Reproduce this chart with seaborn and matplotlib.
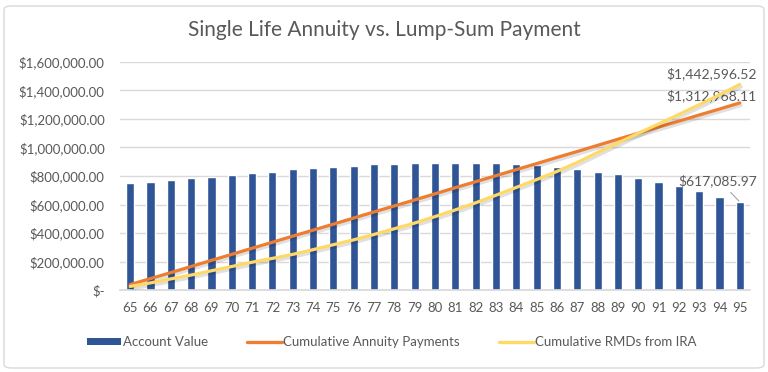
import numpy as np
import pandas as pd
import matplotlib.pyplot as plt
import matplotlib.patheffects as pe
from matplotlib.patches import FancyBboxPatch, Patch
from matplotlib.lines import Line2D
from matplotlib.ticker import FuncFormatter
import seaborn as sns

# ── data ──
ages = list(range(65, 96))
account_value = [753, 760, 769, 786, 795, 805, 821, 831, 847, 854, 864,
                 873, 882, 882, 889, 889, 889, 889, 889, 882, 875, 866,
                 847, 831, 812, 788, 760, 727, 692, 656, 617.08597]
annuity_cum = [38, 80, 122, 165, 208, 250, 293, 335, 378, 420, 462,
               505, 548, 590, 632, 675, 718, 760, 802, 845, 887, 930,
               972, 1015, 1058, 1100, 1143, 1185, 1228, 1270, 1312.96811]
rmd_cum = [25, 50, 78, 105, 135, 165, 195, 222, 250, 283, 318,
           352, 390, 430, 470, 515, 562, 612, 665, 720, 775, 832,
           895, 965, 1032, 1100, 1165, 1232, 1300, 1370, 1442.59652]

series_names = ['Account Value', 'Cumulative Annuity Payments', 'Cumulative RMDs from IRA']
colors = ['#2F5597', '#ED7D31', '#FFD966']
text_gray = '#595959'

df = pd.DataFrame({'age': ages,
                   'account': np.array(account_value) * 1000,
                   'annuity': np.array(annuity_cum) * 1000,
                   'rmd': np.array(rmd_cum) * 1000})
df['pos'] = np.arange(len(df))

sns.set_theme(style='white')
plt.rcParams['font.family'] = ['Lato', 'DejaVu Sans']

fig = plt.figure(figsize=(7.68, 3.72), dpi=100)
ax = fig.add_axes([120 / 768, 82 / 372, 630 / 768, 228 / 372])

# outer chart border
fig.patches.append(FancyBboxPatch((4 / 768, 4 / 372), 760 / 768, 362 / 372,
                                  boxstyle='round,pad=0,rounding_size=0.01',
                                  transform=fig.transFigure, fill=False,
                                  edgecolor='#D9D9D9', linewidth=1.0))

sns.barplot(data=df, x='age', y='account', color=colors[0], width=0.4,
            saturation=1, ax=ax, zorder=2)

shadow = [pe.SimpleLineShadow(offset=(1.0, -1.8), alpha=0.12, shadow_color='black'),
          pe.Normal()]
sns.lineplot(data=df, x='pos', y='annuity', color=colors[1], linewidth=2.3,
             ax=ax, zorder=3, path_effects=shadow)
sns.lineplot(data=df, x='pos', y='rmd', color=colors[2], linewidth=2.3,
             ax=ax, zorder=4, path_effects=shadow)

ax.set_ylim(0, 1600000)
ax.set_xlim(-0.5, len(ages) - 0.5)
ax.set_yticks(np.arange(0, 1600001, 200000))
ax.yaxis.set_major_formatter(FuncFormatter(
    lambda v, p: '$-' if v == 0 else f'${v:,.2f}'))
ax.grid(axis='y', color='#D9D9D9', linewidth=1, zorder=0)
ax.set_axisbelow(True)
for s in ['top', 'right', 'left']:
    ax.spines[s].set_visible(False)
ax.spines['bottom'].set_color('#D9D9D9')
ax.tick_params(axis='both', length=0, labelsize=9.5, colors=text_gray)
ax.tick_params(axis='y', pad=11)
ax.tick_params(axis='x', pad=9)
ax.set_xlabel('')
ax.set_ylabel('')

# data labels at the last point
last = len(ages) - 1
ax.text(1.01, df['rmd'].iloc[-1] + 78000, f"${rmd_cum[-1] * 1000:,.2f}",
        transform=ax.get_yaxis_transform(), ha='right', va='center',
        fontsize=10, color=text_gray)
ax.text(1.01, df['annuity'].iloc[-1] + 53000, f"${annuity_cum[-1] * 1000:,.2f}",
        transform=ax.get_yaxis_transform(), ha='right', va='center',
        fontsize=10, color=text_gray)
ax.annotate(f"${account_value[-1] * 1000:,.2f}", xy=(last, df['account'].iloc[-1]),
            xytext=(last + 0.85, df['account'].iloc[-1] + 150000),
            ha='right', va='center', fontsize=10, color=text_gray,
            arrowprops=dict(arrowstyle='-', color='#A6A6A6', lw=0.8,
                            shrinkA=2, shrinkB=1,
                            relpos=(0.6, 0)))

fig.suptitle('Single Life Annuity vs. Lump-Sum Payment', y=0.945,
             fontsize=15, color=text_gray)

handles = [Patch(facecolor=colors[0], edgecolor='none'),
           Line2D([], [], color=colors[1], linewidth=2.4),
           Line2D([], [], color=colors[2], linewidth=2.4)]
fig.legend(handles, series_names, loc='center', bbox_to_anchor=(0.51, 0.08),
           ncol=3, frameon=False, fontsize=9.5, labelcolor=text_gray,
           handlelength=2.6, handleheight=0.35, handletextpad=0.1,
           columnspacing=3.0)

fig.savefig('out.png', dpi=100)
